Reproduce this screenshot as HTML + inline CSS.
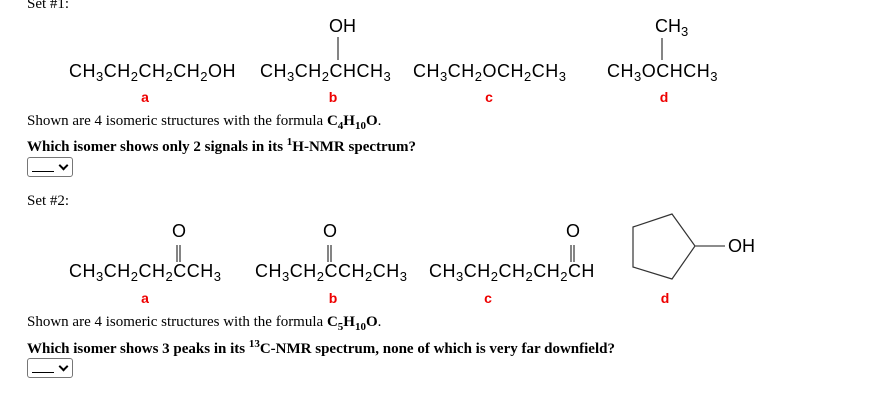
<!DOCTYPE html>
<html><head><style>
body{margin:0;background:#fff;width:894px;height:400px;overflow:hidden;position:relative}
.s{position:absolute;font-family:"Liberation Serif",serif;font-size:15px;color:#000;white-space:nowrap}
.b{font-weight:bold}
.sel{position:absolute;width:44px;height:18px;border:1px solid #767676;border-radius:3px;background:#fff}
.sel:before{content:"";position:absolute;left:4px;top:13px;width:22px;border-top:1px solid #000}
.sel:after{content:"";position:absolute;left:32px;top:4px;width:5px;height:5px;border-right:2px solid #000;border-bottom:2px solid #000;transform:rotate(45deg)}
svg{position:absolute;left:0;top:0}
.f{letter-spacing:0.5px}
</style></head><body>
<svg width="894" height="400" font-family="Liberation Sans, Arial, sans-serif" font-size="18">
<g fill="#000">
<text class="f" x="69" y="77">CH<tspan font-size="13" dy="4">3</tspan><tspan dy="-4">CH</tspan><tspan font-size="13" dy="4">2</tspan><tspan dy="-4">CH</tspan><tspan font-size="13" dy="4">2</tspan><tspan dy="-4">CH</tspan><tspan font-size="13" dy="4">2</tspan><tspan dy="-4">OH</tspan></text>
<text x="329" y="32">OH</text>
<text class="f" x="260" y="77">CH<tspan font-size="13" dy="4">3</tspan><tspan dy="-4">CH</tspan><tspan font-size="13" dy="4">2</tspan><tspan dy="-4">CHCH</tspan><tspan font-size="13" dy="4">3</tspan></text>
<text class="f" x="413" y="77">CH<tspan font-size="13" dy="4">3</tspan><tspan dy="-4">CH</tspan><tspan font-size="13" dy="4">2</tspan><tspan dy="-4">OCH</tspan><tspan font-size="13" dy="4">2</tspan><tspan dy="-4">CH</tspan><tspan font-size="13" dy="4">3</tspan></text>
<text x="655" y="32">CH<tspan font-size="13" dy="4">3</tspan></text>
<text class="f" x="607" y="77">CH<tspan font-size="13" dy="4">3</tspan><tspan dy="-4">OCHCH</tspan><tspan font-size="13" dy="4">3</tspan></text>

<text x="172" y="237">O</text>
<text x="323" y="237">O</text>
<text x="566" y="237">O</text>
<text class="f" x="69" y="277">CH<tspan font-size="13" dy="4">3</tspan><tspan dy="-4">CH</tspan><tspan font-size="13" dy="4">2</tspan><tspan dy="-4">CH</tspan><tspan font-size="13" dy="4">2</tspan><tspan dy="-4">CCH</tspan><tspan font-size="13" dy="4">3</tspan></text>
<text class="f" x="255" y="277">CH<tspan font-size="13" dy="4">3</tspan><tspan dy="-4">CH</tspan><tspan font-size="13" dy="4">2</tspan><tspan dy="-4">CCH</tspan><tspan font-size="13" dy="4">2</tspan><tspan dy="-4">CH</tspan><tspan font-size="13" dy="4">3</tspan></text>
<text class="f" x="429" y="277">CH<tspan font-size="13" dy="4">3</tspan><tspan dy="-4">CH</tspan><tspan font-size="13" dy="4">2</tspan><tspan dy="-4">CH</tspan><tspan font-size="13" dy="4">2</tspan><tspan dy="-4">CH</tspan><tspan font-size="13" dy="4">2</tspan><tspan dy="-4">CH</tspan></text>
<text x="728" y="252">OH</text>
</g>
<g stroke="#333" stroke-width="1.2" fill="none">
<line x1="338" y1="37" x2="338" y2="60"/>
<line x1="662" y1="38" x2="662" y2="60"/>
<line x1="177" y1="245" x2="177" y2="262"/><line x1="180" y1="245" x2="180" y2="262"/>
<line x1="328" y1="245" x2="328" y2="262"/><line x1="331" y1="245" x2="331" y2="262"/>
<line x1="571" y1="245" x2="571" y2="262"/><line x1="574" y1="245" x2="574" y2="262"/>
<polygon points="633,227 672,214 695,246 672,279 633,267"/>
<line x1="695" y1="246" x2="725" y2="246" stroke="#666" stroke-width="1.6"/>
</g>
<g fill="#e00" font-weight="bold" font-size="14" text-anchor="middle">
<text x="145" y="102">a</text><text x="333" y="102">b</text><text x="489" y="102">c</text><text x="664" y="102">d</text>
<text x="145" y="303">a</text><text x="333" y="303">b</text><text x="488" y="303">c</text><text x="665" y="303">d</text>
</g>
</svg>
<div class="s" style="left:27px;top:-4px">Set #1:</div>
<div class="s" style="left:27px;top:113px">Shown are 4 isomeric structures with the formula <b>C<sub style="font-size:11px">4</sub>H<sub style="font-size:11px">10</sub>O</b>.</div>
<div class="s b" style="left:27px;top:136px">Which isomer shows only 2 signals in its <sup style="font-size:11px">1</sup>H-NMR spectrum?</div>
<div class="sel" style="left:27px;top:157px"></div>
<div class="s" style="left:27px;top:193px">Set #2:</div>
<div class="s" style="left:27px;top:314px">Shown are 4 isomeric structures with the formula <b>C<sub style="font-size:11px">5</sub>H<sub style="font-size:11px">10</sub>O</b>.</div>
<div class="s b" style="left:27px;top:338px">Which isomer shows 3 peaks in its <sup style="font-size:11px">13</sup>C-NMR spectrum, none of which is very far downfield?</div>
<div class="sel" style="left:27px;top:358px"></div>
</body></html>
